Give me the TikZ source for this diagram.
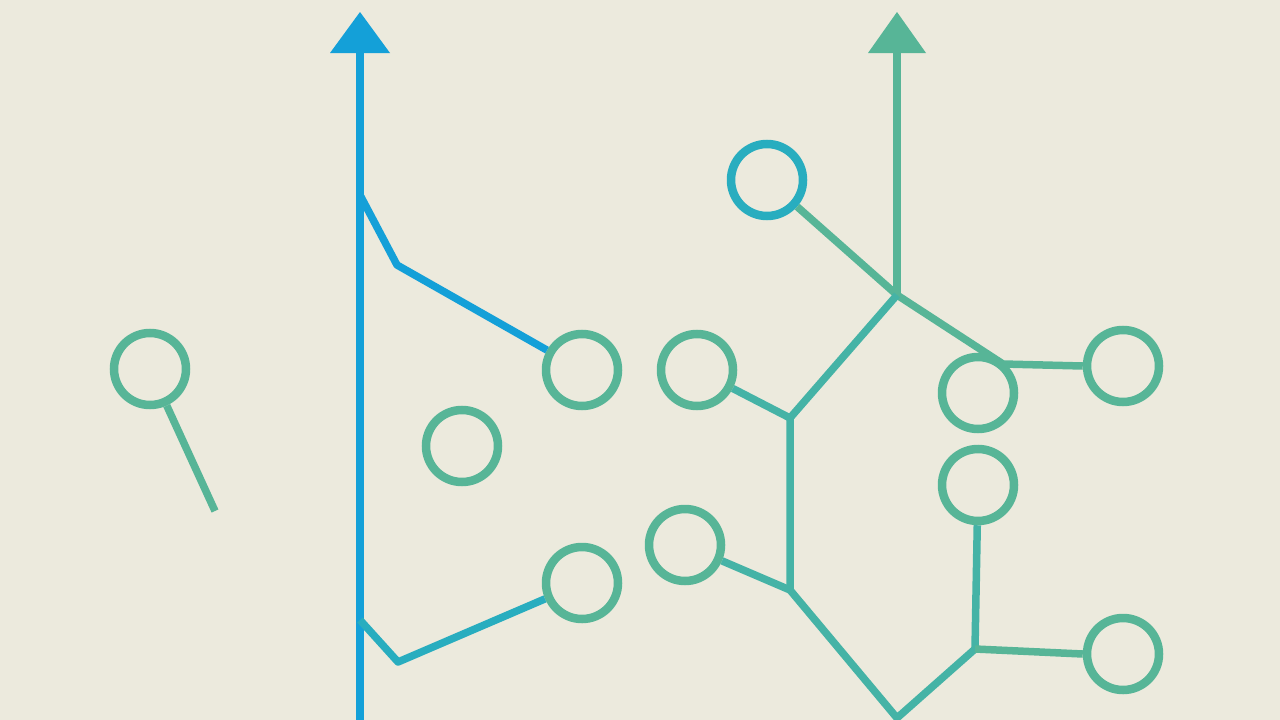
\documentclass[tikz,border=0pt]{standalone}
\usetikzlibrary{calc}
\definecolor{bg}{HTML}{ECEADD}
\definecolor{cblue}{HTML}{14A0D8}
\definecolor{cteal}{HTML}{28ADBF}
\definecolor{cgreen}{HTML}{57B597}
\definecolor{cmint}{HTML}{45B3A6}
\begin{document}
\begin{tikzpicture}[x=1pt,y=-1pt,
  ring/.style={circle,draw=cgreen,line width=8.5pt,minimum size=72pt,inner sep=0pt},
  wire/.style={line width=7.5pt,line join=round}]
\fill[bg] (0,0) rectangle (1280,720);
\useasboundingbox (0,0) rectangle (1280,720);

% rings
\node[ring] (cL) at (150,369) {};
\node[ring] (cA) at (582,370) {};
\node[ring] (cM) at (462,446) {};
\node[ring] (cB) at (582,583) {};
\node[ring,draw=cteal] (cT) at (767,180) {};
\node[ring] (cP) at (697,370) {};
\node[ring] (cQ) at (685,545) {};
\node[ring] (cR1) at (978,393) {};
\node[ring] (cR2) at (1123,366) {};
\node[ring] (cR3) at (978,485) {};
\node[ring] (cR4) at (1123,654) {};

% coordinates
\coordinate (endL) at (215,511);
\coordinate (bBot) at (360,722);
\coordinate (bBase) at (360,50);
\coordinate (bTip) at (360,12);
\coordinate (b1) at (360,195);
\coordinate (b2) at (397,265);
\coordinate (b3) at (360,620);
\coordinate (b4) at (398,662);
\coordinate (gJ) at (897,295);
\coordinate (gBase) at (897,50);
\coordinate (gTip) at (897,12);
\coordinate (gK) at (1003,364);
\coordinate (gU) at (790,418);
\coordinate (gD) at (790,590);
\coordinate (gB) at (897,718);
\coordinate (gE) at (975,649);

% left lone stick
\draw[wire,cgreen] (cL) -- (endL);

% blue trunk + arrow
\draw[wire,cblue] (bBot) -- (bBase);
\fill[cblue] (bTip) -- (390,53) -- (330,53) -- cycle;
\draw[wire,cblue] (b1) -- (b2) -- (cA);
\draw[wire,cteal] (b3) -- (b4) -- (cB);

% green trunk + arrow
\draw[wire,cgreen] (gJ) -- (gBase);
\fill[cgreen] (gTip) -- (926,53) -- (868,53) -- cycle;
\draw[wire,cgreen] (cT) -- (gJ);
\draw[wire,cgreen] (gJ) -- (gK) -- (cR2.west);
\draw[wire,cmint] (gJ) -- (gU) -- (gD) -- (gB) -- (gE);
\draw[wire,cmint] (cP) -- (gU);
\draw[wire,cmint] (cQ) -- (gD);
\draw[wire,cmint] (cR3) -- (gE);
\draw[wire,cgreen] (gE) -- (cR4.west);
\end{tikzpicture}
\end{document}
